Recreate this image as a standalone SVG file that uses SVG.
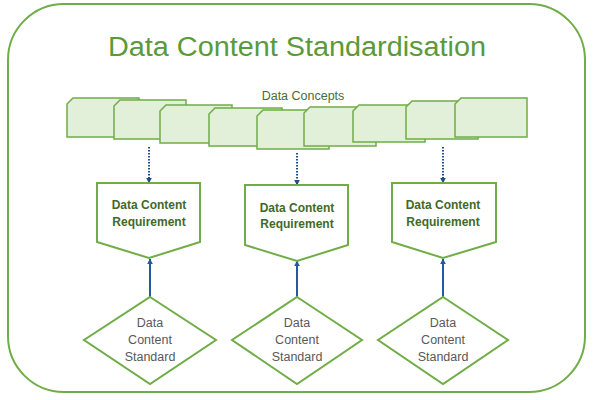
<svg xmlns="http://www.w3.org/2000/svg" width="594" height="400" viewBox="0 0 594 400">
<style>
.frame{fill:#ffffff;stroke:#70ad47;stroke-width:2}
.card{fill:#e2efd9;stroke:#70ad47;stroke-width:1.5}
.pent{fill:#ffffff;stroke:#70ad47;stroke-width:2}
.dia{fill:#ffffff;stroke:#70ad47;stroke-width:2}
.title{font-family:"Liberation Sans",Arial,sans-serif;font-size:27px;fill:#5a9a3a;text-anchor:middle}
.lbl{font-family:"Liberation Sans",Arial,sans-serif;font-size:12.5px;fill:#4a6b3a;text-anchor:middle}
.req{font-family:"Liberation Sans",Arial,sans-serif;font-size:12px;font-weight:bold;fill:#3f6a2a;text-anchor:middle}
.std{font-family:"Liberation Sans",Arial,sans-serif;font-size:12.5px;fill:#595959;text-anchor:middle}
.dot{stroke:#1f4e8c;stroke-width:2;stroke-dasharray:1.5 1.5;fill:none}
.sol{stroke:#2458a0;stroke-width:2;fill:none}
</style>
<defs>
<marker id="ah" viewBox="0 0 10 10" refX="9" refY="5" markerWidth="3" markerHeight="3" orient="auto" markerUnits="strokeWidth">
<path d="M0,0 L10,5 L0,10 z" fill="#1f4e8c"/>
</marker>
<marker id="ah2" viewBox="0 0 10 10" refX="9" refY="5" markerWidth="3" markerHeight="3" orient="auto" markerUnits="strokeWidth">
<path d="M0,0 L10,5 L0,10 z" fill="#2458a0"/>
</marker>
</defs>
<g id="frame">
<rect class="frame" x="8" y="4" width="577" height="388" rx="56" ry="56"/>
<text class="title" x="297" y="56" textLength="378" lengthAdjust="spacingAndGlyphs">Data Content Standardisation</text>
</g>
<g id="data-concepts">
<text class="lbl" x="303" y="100">Data Concepts</text>
<path class="card" d="M73,98 L139,98 L139,137 L67,137 L67,104 Z"/>
<path class="card" d="M120,100 L186,100 L186,139 L114,139 L114,106 Z"/>
<path class="card" d="M166,105 L232,105 L232,143 L160,143 L160,111 Z"/>
<path class="card" d="M215,108 L282,108 L282,146 L209,146 L209,114 Z"/>
<path class="card" d="M263,110 L329,110 L329,149 L257,149 L257,116 Z"/>
<path class="card" d="M310,107 L376,107 L376,146 L304,146 L304,113 Z"/>
<path class="card" d="M359,105 L425,105 L425,142 L353,142 L353,111 Z"/>
<path class="card" d="M412,101 L478,101 L478,139 L406,139 L406,107 Z"/>
<path class="card" d="M461,98 L527,98 L527,137 L455,137 L455,104 Z"/>
</g>
<g id="connectors">
<line class="dot" x1="149" y1="147" x2="149" y2="183" marker-end="url(#ah)"/>
<line class="dot" x1="297" y1="153" x2="297" y2="185" marker-end="url(#ah)"/>
<line class="dot" x1="443" y1="147" x2="443" y2="183" marker-end="url(#ah)"/>
<line class="sol" x1="150" y1="297" x2="150" y2="259" marker-end="url(#ah2)"/>
<line class="sol" x1="297" y1="297" x2="297" y2="261" marker-end="url(#ah2)"/>
<line class="sol" x1="443" y1="297" x2="443" y2="259" marker-end="url(#ah2)"/>
</g>
<g id="req1">
<path class="pent" d="M97,183 L200,183 L200,242 L149,258 L97,242 Z"/>
<text class="req" x="149" y="209">Data Content</text>
<text class="req" x="149" y="226">Requirement</text>
</g>
<g id="req2">
<path class="pent" d="M245,185 L348,185 L348,245 L297,261 L245,245 Z"/>
<text class="req" x="297" y="212">Data Content</text>
<text class="req" x="297" y="228">Requirement</text>
</g>
<g id="req3">
<path class="pent" d="M392,183 L496,183 L496,242 L443,258 L392,242 Z"/>
<text class="req" x="443" y="209">Data Content</text>
<text class="req" x="443" y="226">Requirement</text>
</g>
<g id="std1">
<path class="dia" d="M150,297 L216,340 L150,384 L84,340 Z"/>
<text class="std" x="150" y="327">Data</text>
<text class="std" x="150" y="344">Content</text>
<text class="std" x="150" y="361">Standard</text>
</g>
<g id="std2">
<path class="dia" d="M297,297 L362,340 L297,384 L232,340 Z"/>
<text class="std" x="297" y="327">Data</text>
<text class="std" x="297" y="344">Content</text>
<text class="std" x="297" y="361">Standard</text>
</g>
<g id="std3">
<path class="dia" d="M443,297 L508,340 L443,384 L378,340 Z"/>
<text class="std" x="443" y="327">Data</text>
<text class="std" x="443" y="344">Content</text>
<text class="std" x="443" y="361">Standard</text>
</g>
</svg>
